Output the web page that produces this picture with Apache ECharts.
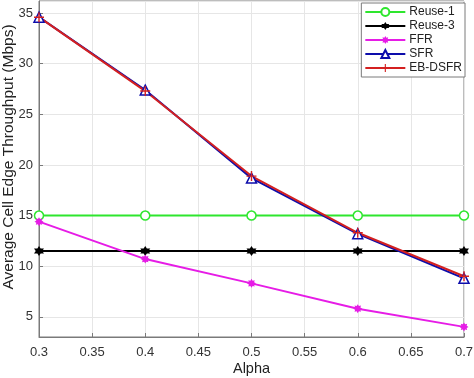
<!DOCTYPE html>
<html>
<head>
<meta charset="utf-8">
<script src="https://cdn.jsdelivr.net/npm/echarts@6/dist/echarts.min.js"></script>
<style>
  html, body { margin: 0; padding: 0; background: #fff; }
  #chart { width: 474px; height: 378px; }
</style>
</head>
<body>
<div id="chart"></div>
<script>
// x values (alpha)
var alpha = [0.3, 0.4, 0.5, 0.6, 0.7];
var reuse1 = [15, 15, 15, 15, 15];
var reuse3 = [11.5, 11.5, 11.5, 11.5, 11.5];
var ffr = [14.4, 10.7, 8.3, 5.8, 4.0];
var sfr = [34.6, 27.4, 18.7, 13.2, 8.8];
var ebdsfr = [34.6, 27.3, 18.9, 13.3, 9.0];

function pairs(ys) {
  return ys.map(function (y, i) { return [alpha[i], y]; });
}

// star shaped marker path
function starPath(n, ro, ri) {
  var s = 'path://';
  for (var i = 0; i < n * 2; i++) {
    var r = i % 2 ? ri : ro;
    var a = Math.PI / 2 + i * Math.PI / n;
    s += (i ? 'L' : 'M') + (10 + r * Math.cos(a)).toFixed(2) + ',' + (10 - r * Math.sin(a)).toFixed(2);
  }
  return s + 'Z';
}
var plusPath = 'path://M4.3,0H5.7V4.3H10V5.7H5.7V10H4.3V5.7H0V4.3H4.3Z';

var myChart = echarts.init(document.getElementById('chart'));
var font = 'Liberation Sans, Arial, sans-serif';

function line(name, ys, color, symbol, size, fill) {
  return {
    name: name,
    type: 'line',
    data: pairs(ys),
    symbol: symbol,
    symbolSize: size,
    showAllSymbol: true,
    lineStyle: { color: color, width: 2 },
    itemStyle: {
      color: fill,
      borderColor: color,
      borderWidth: fill === color ? 0 : 1.5
    },
    emphasis: { disabled: true },
    animation: false
  };
}

var option = {
  animation: false,
  grid: {
    left: 39,
    right: 10,
    top: 1,
    bottom: 41,
    outerBoundsMode: 'none',
    containLabel: false,
    show: true,
    borderColor: '#7a7a7a',
    borderWidth: 1
  },
  legend: {
    orient: 'vertical',
    right: 9,
    top: 3,
    backgroundColor: '#fff',
    borderColor: '#7a7a7a',
    borderWidth: 1,
    padding: [3, 3, 3, 3],
    itemGap: 2,
    itemWidth: 40,
    itemHeight: 10,
    textStyle: { fontFamily: font, fontSize: 12, color: '#222', padding: [0, 0, 0, -1] },
    data: ['Reuse-1', 'Reuse-3', 'FFR', 'SFR', 'EB-DSFR']
  },
  xAxis: {
    type: 'value',
    min: 0.3,
    max: 0.7,
    interval: 0.05,
    name: 'Alpha',
    nameLocation: 'middle',
    nameGap: 24,
    nameMoveOverlap: false,
    nameTextStyle: { fontFamily: font, fontSize: 14.5, color: '#222' },
    axisLine: { lineStyle: { color: '#7a7a7a' } },
    axisTick: { inside: true, length: 4, lineStyle: { color: '#7a7a7a' } },
    axisLabel: {
      fontFamily: font, fontSize: 13, color: '#333', margin: 9,
      formatter: function (v) { return String(Math.round(v * 100) / 100); }
    },
    splitLine: { lineStyle: { color: '#e6e6e6' } }
  },
  yAxis: {
    type: 'value',
    min: 3,
    max: 36.2,
    splitNumber: 7,
    name: 'Average Cell Edge Throughput (Mbps)',
    nameLocation: 'middle',
    nameGap: 22,
    nameMoveOverlap: false,
    nameTextStyle: { fontFamily: font, fontSize: 15.5, color: '#222', padding: [0, 0, 0, 24] },
    axisLine: { show: true, lineStyle: { color: '#7a7a7a' } },
    axisTick: { inside: true, length: 4, lineStyle: { color: '#7a7a7a' } },
    axisLabel: {
      fontFamily: font, fontSize: 13, color: '#333', margin: 6,
      showMinLabel: false, showMaxLabel: false
    },
    splitLine: { lineStyle: { color: '#e6e6e6' } }
  },
  series: [
    line('Reuse-1', reuse1, '#2ee62e', 'circle', 9, '#fff'),
    line('Reuse-3', reuse3, '#000', starPath(6, 6, 3.4), 10, '#000'),
    line('FFR', ffr, '#e61ce6', starPath(8, 5.5, 3.5), 9, '#e61ce6'),
    line('SFR', sfr, '#0d0dab', 'triangle', 10, '#fff'),
    line('EB-DSFR', ebdsfr, '#d42020', plusPath, 10, '#d42020')
  ]
};

myChart.setOption(option);
window.addEventListener('resize', function () {
  myChart.resize();
}, true);
</script>
</body>
</html>
